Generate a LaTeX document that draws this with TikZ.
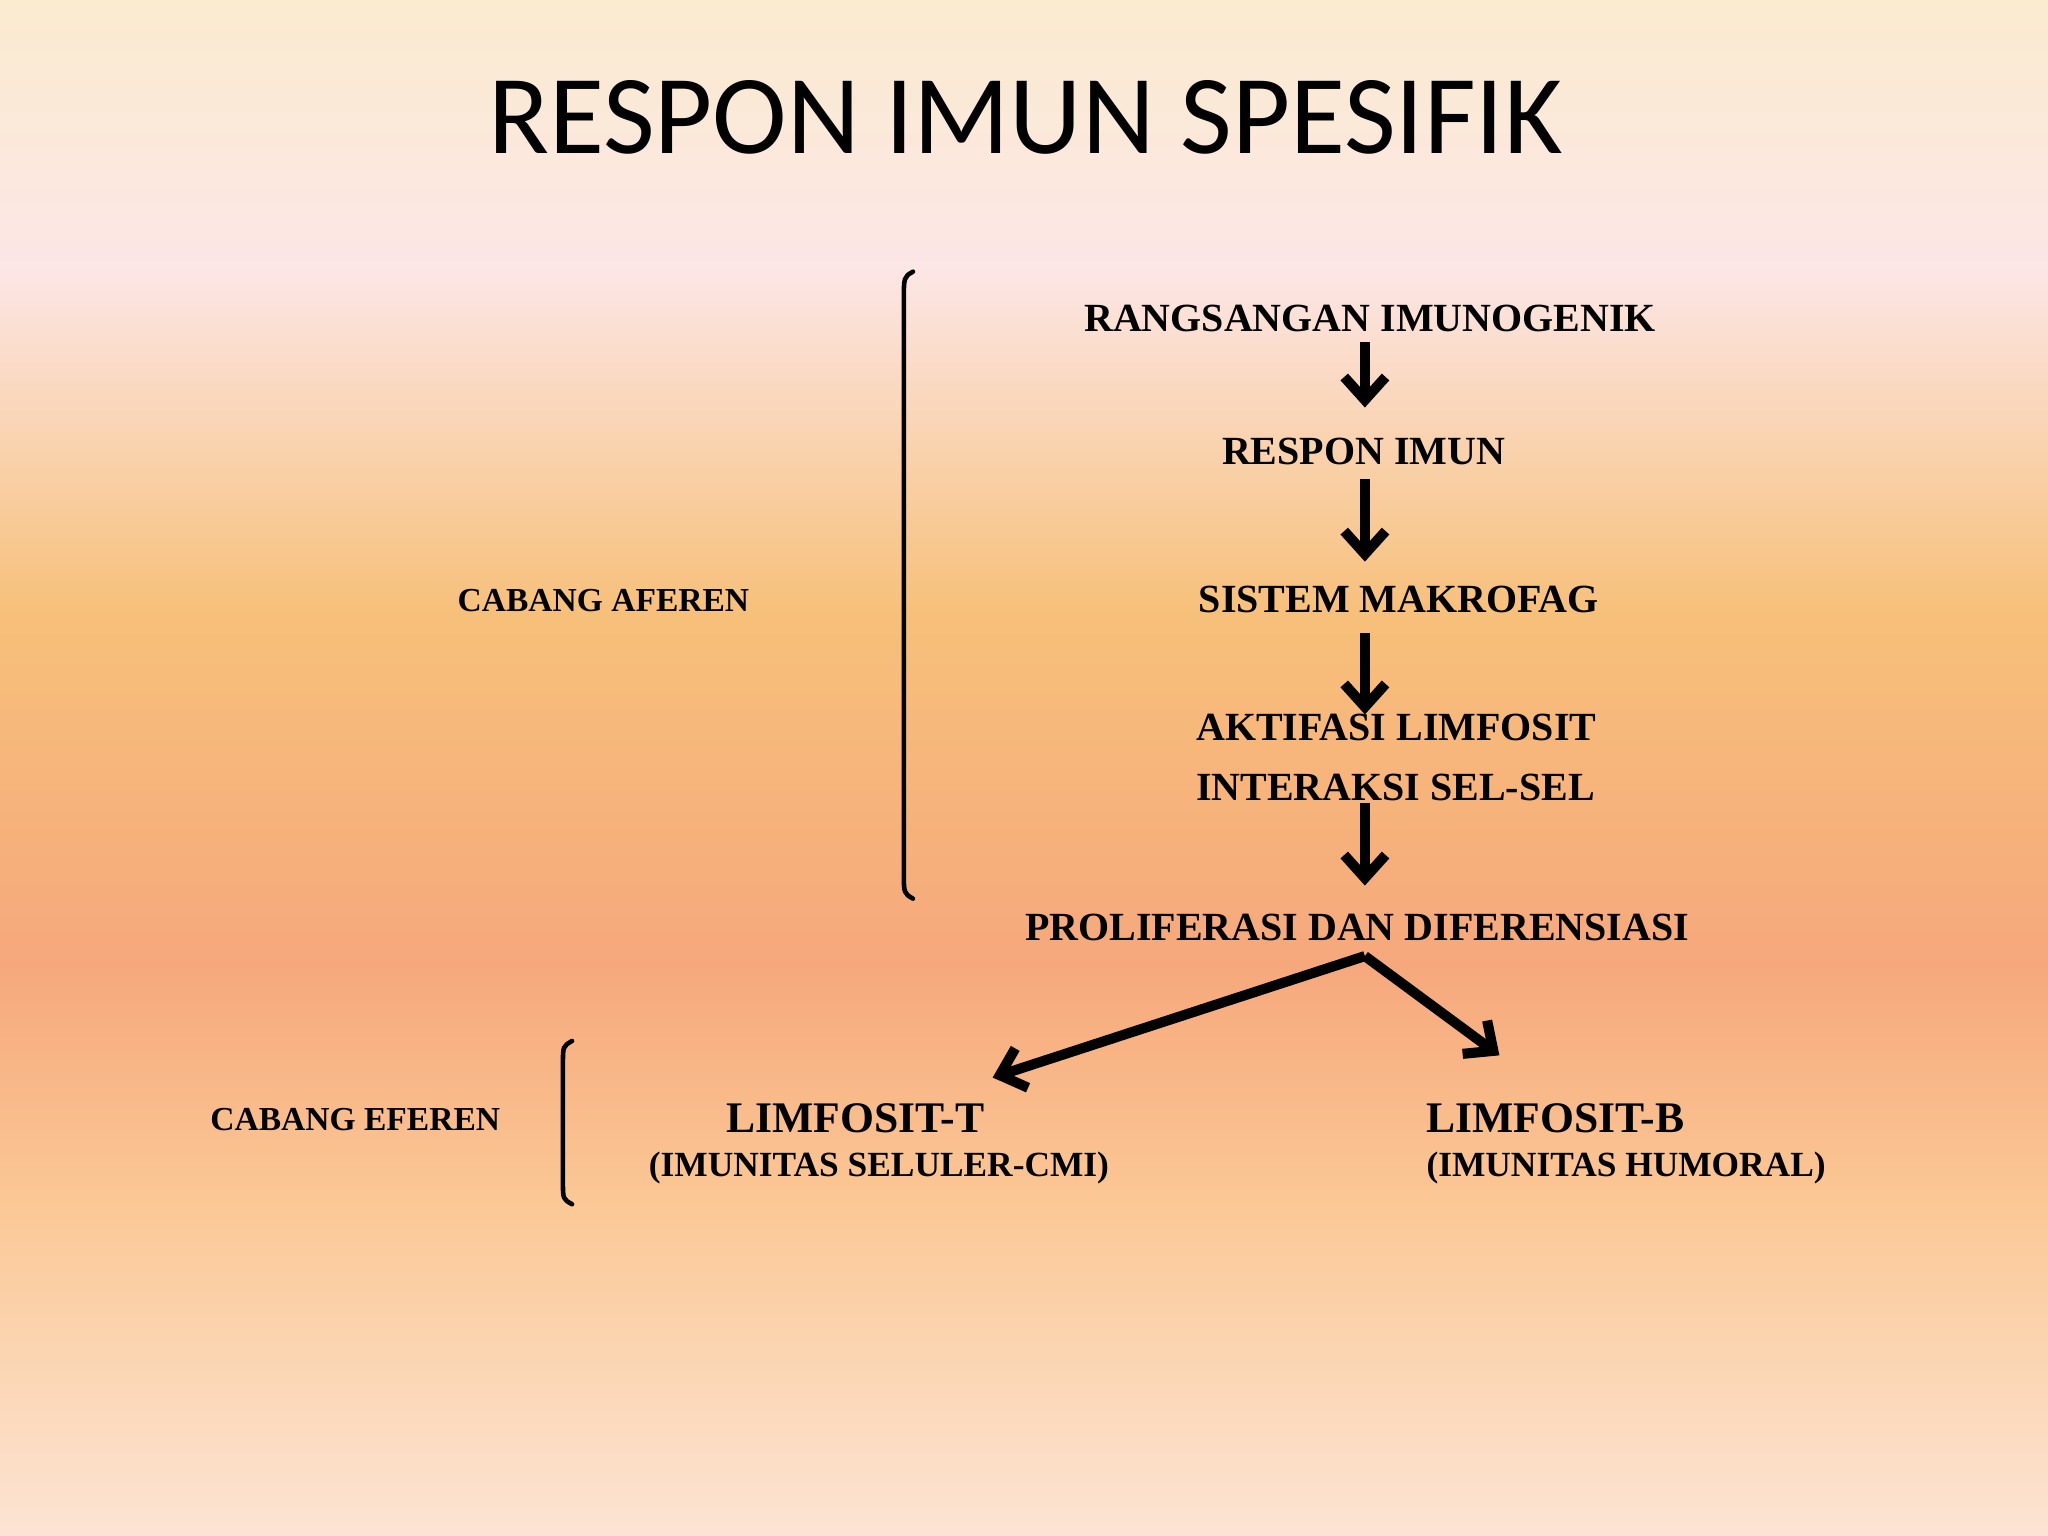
\documentclass[tikz,border=0pt]{standalone}
\usepackage{fontspec}
\setmainfont{Liberation Serif}
\newfontfamily\titlefont{Carlito}
\usetikzlibrary{arrows.meta}
\definecolor{bgF}{HTML}{FBEBCF}
\definecolor{bgE}{HTML}{FCE6E6}
\definecolor{bgD}{HTML}{F7C07A}
\definecolor{bgC}{HTML}{F6A87C}
\definecolor{bgB}{HTML}{FBC895}
\definecolor{bgA}{HTML}{FCE4D4}
\tikzset{
 lbl/.style={font=\bfseries\fontsize{8.7pt}{11pt}\selectfont, inner sep=1pt},
 side/.style={font=\bfseries\fontsize{7.3pt}{9pt}\selectfont, inner sep=1pt},
 big/.style={font=\bfseries\fontsize{9.5pt}{12pt}\selectfont, inner sep=1pt},
 sub/.style={font=\bfseries\fontsize{7.7pt}{10pt}\selectfont, inner sep=1pt},
 flow/.style={line width=2.2pt, -{Straight Barb[length=5pt,width=9pt,line width=2.2pt]}},
 brk/.style={line width=1pt, line cap=round}
}
\begin{document}
\begin{tikzpicture}[x=0.01cm,y=-0.01cm]
\fill[top color=bgF, bottom color=bgE, draw=none] (0,0) rectangle (1568,205);
\fill[top color=bgE, bottom color=bgD, draw=none] (0,204) rectangle (1568,470);
\fill[top color=bgD, bottom color=bgC, draw=none] (0,469) rectangle (1568,740);
\fill[top color=bgC, bottom color=bgB, draw=none] (0,739) rectangle (1568,920);
\fill[top color=bgB, bottom color=bgA, draw=none] (0,919) rectangle (1568,1176);
\useasboundingbox (0,0) rectangle (1568,1176);
\node[font=\titlefont\fontsize{24.5pt}{28pt}\selectfont] (title) at (785,90) {RESPON IMUN SPESIFIK};
\node[lbl] (n1) at (1049,244) {RANGSANGAN IMUNOGENIK};
\node[lbl] (n2) at (1044,346) {RESPON IMUN};
\node[lbl] (n3) at (1071,459) {SISTEM MAKROFAG};
\node[lbl, align=left] (n4) at (1069,580) {AKTIFASI LIMFOSIT\\[2pt]INTERAKSI SEL-SEL};
\node[lbl] (n5) at (1039,710) {PROLIFERASI DAN DIFERENSIASI};
\node[side] (af) at (462,460) {CABANG AFEREN};
\node[side] (ef) at (272,857) {CABANG EFEREN};
\node[big] (lt) at (655,856) {LIMFOSIT-T};
\node[sub] (lts) at (673,894) {(IMUNITAS SELULER-CMI)};
\node[big] (lb) at (1191,856) {LIMFOSIT-B};
\node[sub] (lbs) at (1245,894) {(IMUNITAS HUMORAL)};
\coordinate (a1s) at (1045,262); \coordinate (a1e) at (1045,312);
\coordinate (a2s) at (1045,367); \coordinate (a2e) at (1045,430);
\coordinate (a3s) at (1045,485); \coordinate (a3e) at (1045,547);
\coordinate (a4s) at (1045,615); \coordinate (a4e) at (1045,678);
\draw[flow] (a1s) -- (a1e);
\draw[flow] (a2s) -- (a2e);
\draw[flow] (a3s) -- (a3e);
\draw[flow] (a4s) -- (a4e);
\coordinate (br) at (1045,732);
\coordinate (tT) at (760,825);
\coordinate (tB) at (1148,808);
\draw[flow] (br) -- (tT);
\draw[flow] (br) -- (tB);
\draw[brk] (699,208) .. controls (692,212) .. (692,230) -- (692,668) .. controls (692,684) .. (699,688);
\draw[brk] (438,797) .. controls (431,801) .. (431,815) -- (431,905) .. controls (431,918) .. (438,922);
\end{tikzpicture}
\end{document}
